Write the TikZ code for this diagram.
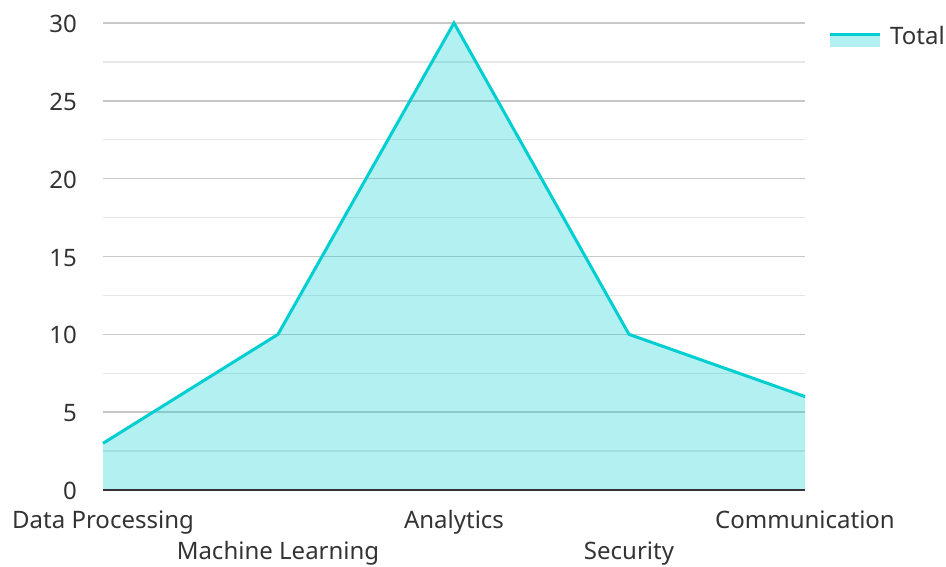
\documentclass[tikz,border=0pt]{standalone}
\usepackage{fontspec}
\setmainfont{Noto Sans}
\definecolor{teal0}{HTML}{00CED1}
\definecolor{txt}{HTML}{333333}
\definecolor{gmaj}{HTML}{C8C8C8}
\definecolor{gmin}{HTML}{E6E6E6}
\begin{document}
\begin{tikzpicture}[x=1pt,y=-1pt,
  lbl/.style={text=txt,font=\fontsize{24}{28}\selectfont,inner sep=0pt,anchor=base},
  ylbl/.style={lbl,anchor=base east},
  majg/.style={gmaj,line width=1.5pt},
  ming/.style={gmin,line width=1.5pt},
  series/.style={teal0,line width=3pt,line join=miter},
  area/.style={fill=teal0,fill opacity=0.3}]
\useasboundingbox (0,0) rectangle (946,566);
% minor grid
\foreach \v in {2.5,7.5,...,27.5} \draw[ming] (103,{490-\v*15.567}) -- (805,{490-\v*15.567});
% major grid
\foreach \v in {5,10,...,30} \draw[majg] (103,{490-\v*15.567}) -- (805,{490-\v*15.567});
% y labels
\foreach \v in {0,5,...,30} \node[ylbl] (y\v) at (77,{499.5-\v*15.567}) {\v};
% data points
\coordinate (p1) at (103,{490-3*15.567});
\coordinate (p2) at (278,{490-10*15.567});
\coordinate (p3) at (454,{490-30*15.567});
\coordinate (p4) at (629,{490-10*15.567});
\coordinate (p5) at (805,{490-6*15.567});
\coordinate (b1) at (103,490);
\coordinate (b5) at (805,490);
\fill[area] (b1) -- (p1) -- (p2) -- (p3) -- (p4) -- (p5) -- (b5) -- cycle;
\draw[series] (p1) -- (p2) -- (p3) -- (p4) -- (p5);
% axis
\draw[txt,line width=2pt] (b1) -- (b5);
% x labels
\node[lbl] (x1) at (103,528) {Data Processing};
\node[lbl] (x2) at (278,559.5) {Machine Learning};
\node[lbl] (x3) at (454,528) {Analytics};
\node[lbl] (x4) at (629,559.5) {Security};
\node[lbl] (x5) at (805,528) {Communication};
% legend
\fill[area] (830,34) rectangle (880,47);
\draw[series] (830,34) -- (880,34);
\node[lbl,anchor=base west] (leg) at (890,44) {Total};
\end{tikzpicture}
\end{document}
